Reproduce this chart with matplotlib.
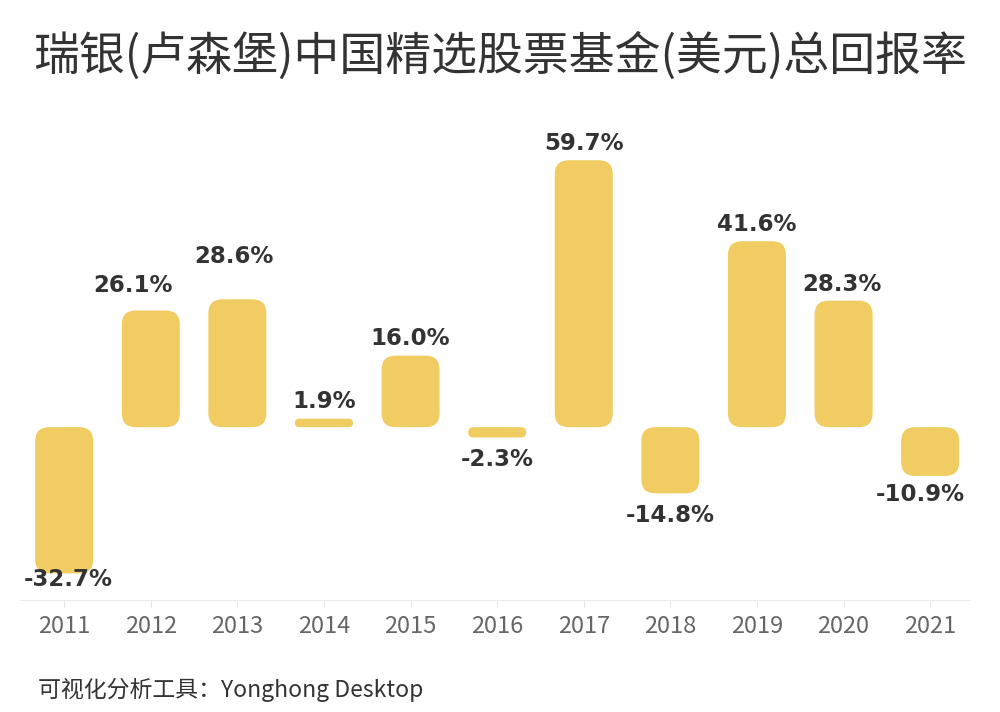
import matplotlib.pyplot as plt
from matplotlib.patches import FancyBboxPatch

plt.rcParams['font.family'] = ['Noto Sans CJK SC', 'DejaVu Sans']

years = ['2011', '2012', '2013', '2014', '2015', '2016', '2017', '2018', '2019', '2020', '2021']
returns = [-32.7, 26.1, 28.6, 1.9, 16.0, -2.3, 59.7, -14.8, 41.6, 28.3, -10.9]
title = '瑞银(卢森堡)中国精选股票基金(美元)总回报率'
footer = '可视化分析工具：Yonghong Desktop'

bar_color = '#F1CC62'
# label nudges in pixels (dx, distance from bar end to label centre)
nudge = {0: (4, 6), 1: (-18, 25), 2: (-3, 43), 9: (-2, 16), 10: (-10, 19)}

fig = plt.figure(figsize=(10, 7.12), dpi=100)
ax = fig.add_axes([0.02, 0.157, 0.95, 0.66])
ax.set_xlim(-0.51, 10.46)
ax.set_ylim(-38.7, 66.4)

x = list(range(len(years)))
bars = ax.bar(x, returns, width=0.67, color=bar_color)

# pixel scale of data units, to get round corners of equal radius
sx = 1000 * 0.95 / (10.46 + 0.51)
sy = 712 * 0.66 / (66.4 + 38.7)
radius = 14
for b in bars:
    bx, by, bw, bh = b.get_x(), b.get_y(), b.get_width(), b.get_height()
    b.remove()
    r = min(radius, abs(bh) * sy / 2, bw * sx / 2)
    y0 = min(by, by + bh)
    p = FancyBboxPatch((bx, y0), bw, abs(bh),
                       boxstyle='round,pad=0,rounding_size=%f' % (r / sx),
                       mutation_aspect=sx / sy,
                       facecolor=bar_color, edgecolor='none')
    ax.add_patch(p)

for i, v in enumerate(returns):
    dx, dy = nudge.get(i, (0, 17 if v >= 0 else 22))
    sign = 1 if v >= 0 else -1
    ax.annotate('%.1f%%' % v, (i, v), xytext=(dx * 0.72, sign * dy * 0.72),
                textcoords='offset points', ha='center', va='center',
                fontsize=16.5, fontweight='bold', color='#333333',
                family='DejaVu Sans')

ax.set_xticks(x)
ax.set_xticklabels(years)
ax.tick_params(axis='x', length=6, color='#e6e6e6', pad=5,
               labelsize=17, labelcolor='#666666')
ax.set_yticks([])
for s in ['left', 'right', 'top']:
    ax.spines[s].set_visible(False)
ax.spines['bottom'].set_color('#ebebeb')
ax.spines['bottom'].set_position(('data', -38.7))

fig.text(0.5, 1 - 57 / 712, title, ha='center', va='center',
         fontsize=33, fontweight='medium', color='#333333')
fig.text(0.038, 1 - 690 / 712, footer, ha='left', va='center',
         fontsize=16.5, color='#333333')

fig.savefig('out.png')
